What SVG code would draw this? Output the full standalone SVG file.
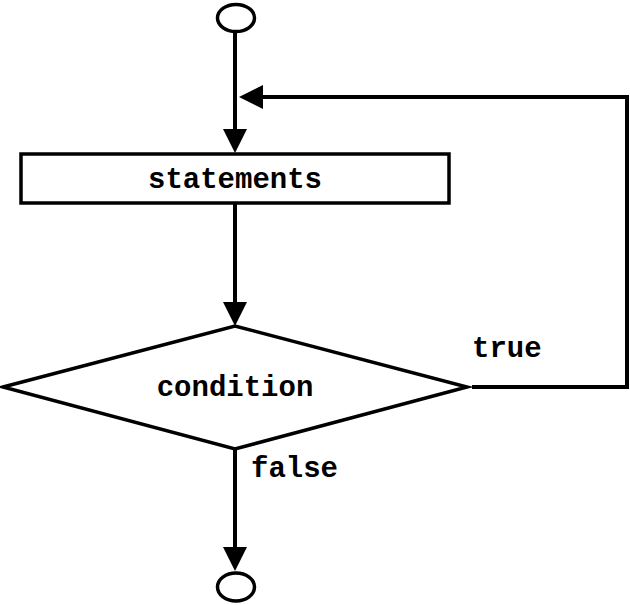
<svg xmlns="http://www.w3.org/2000/svg" width="630" height="605" viewBox="0 0 630 605">
<style>
.shape{fill:#fff;stroke:#000;stroke-width:3.5}
.line{fill:none;stroke:#000;stroke-width:4}
.head{fill:#000;stroke:none}
text{font-family:"Liberation Mono","Courier New",monospace;font-weight:bold;font-size:29px;fill:#000}
</style>
<rect width="630" height="605" fill="#fff"/>
<g id="connectors">
<line class="line" x1="235" y1="32" x2="235" y2="132"/>
<polygon class="head" points="223,129 247,129 235,153"/>
<line class="line" x1="235" y1="203" x2="235" y2="305"/>
<polygon class="head" points="223,302 247,302 235,326"/>
<polyline class="line" points="472,387 627,387 627,97 260,97"/>
<polygon class="head" points="263,85 263,109 239,97"/>
<line class="line" x1="235" y1="449" x2="235" y2="550"/>
<polygon class="head" points="223,547 247,547 235,571"/>
<text x="472" y="357">true</text>
<text x="251" y="477">false</text>
</g>
<g id="start">
<ellipse class="shape" cx="236" cy="18" rx="18.5" ry="13.5"/>
</g>
<g id="statements">
<rect class="shape" x="21" y="154" width="428" height="49"/>
<text x="235" y="188" text-anchor="middle">statements</text>
</g>
<g id="condition">
<polygon class="shape" points="3,387 235,326 467,387 235,449"/>
<text x="235" y="396" text-anchor="middle">condition</text>
</g>
<g id="end">
<ellipse class="shape" cx="236" cy="587" rx="18.5" ry="14"/>
</g>
</svg>
